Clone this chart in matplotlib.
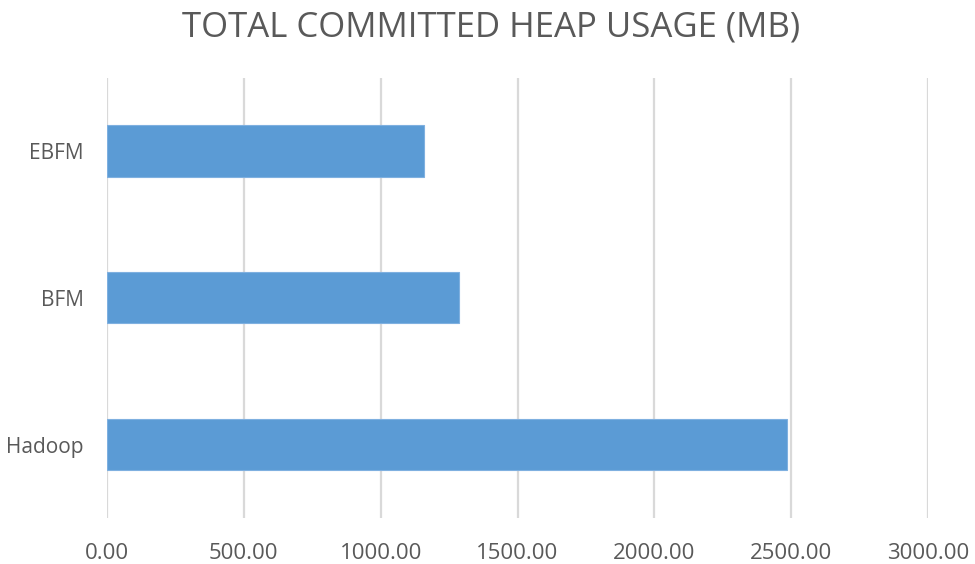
import matplotlib
matplotlib.use("Agg")
import matplotlib.pyplot as plt

categories = ["Hadoop", "BFM", "EBFM"]
values = [2486, 1286, 1157]
xticks = [0, 500, 1000, 1500, 2000, 2500, 3000]
title = "TOTAL COMMITTED HEAP USAGE (MB)"

plt.rcParams['font.family'] = ['Open Sans', 'DejaVu Sans']
text_color = '#595959'
grid_color = '#d9d9d9'
bar_color = '#5b9bd5'

fig = plt.figure(figsize=(9.75, 5.64), dpi=100)
ax = fig.add_axes([107/975, 1 - 518/564, (928 - 107)/975, (518 - 77.5)/564])

ax.barh(range(len(categories)), values, height=0.35, color=bar_color,
        edgecolor='#7fb0e0', linewidth=0.8, zorder=3)
ax.set_xlim(0, 3000)
ax.set_ylim(-0.5, len(categories) - 0.5)
ax.set_xticks(xticks)
ax.set_xticklabels([f"{v:.2f}" for v in xticks])
ax.set_yticks(range(len(categories)))
ax.set_yticklabels(categories)
ax.grid(axis='x', color=grid_color, linewidth=1.6, zorder=0)
for s in ax.spines.values():
    s.set_visible(False)
ax.tick_params(axis='both', length=0, colors=text_color)
ax.tick_params(axis='x', labelsize=16, pad=18)
ax.tick_params(axis='y', labelsize=15, pad=17)

fig.text(491.5/975, 1 - 37/564, title, ha='center', va='baseline',
         fontsize=25, color=text_color)

fig.savefig("out.png", dpi=100)
